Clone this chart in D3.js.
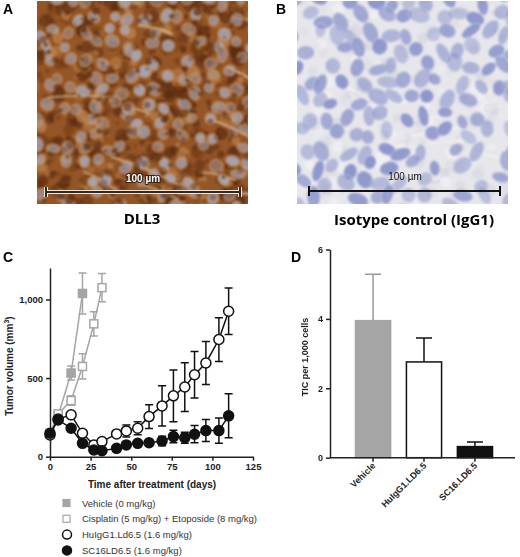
<!DOCTYPE html>
<html>
<head>
<meta charset="utf-8">
<script src="https://cdn.jsdelivr.net/npm/d3@7"></script>
<style>
  body { margin: 0; background: #fff; }
  svg { display: block; }
  text { font-family: Arial, "Liberation Sans", sans-serif; }
</style>
</head>
<body>
<div id="fig"></div>
<script>
// ---- panel C data: tumour volume (mm3) against days after treatment
const vehicleDays = [0, 5, 13, 20]
const vehicleVol = [150, 260, 532, 1038]
const vehicleErr = [20, 25, 45, 130]

const cisDays = [0, 5, 13, 20, 27, 32]
const cisVol = [145, 272, 357, 574, 845, 1075]
const cisErr = [20, 20, 30, 80, 77, 90]

const abDays = [0, 5, 13, 20, 27, 32, 41, 47, 54, 61, 69, 76, 83, 89, 96, 104, 110]
const huVol = [138, 239, 266, 149, 75, 96, 145, 164, 181, 255, 323, 387, 443, 521, 596, 745, 925]
const huErr = [15, 15, 20, 15, 12, 15, 15, 38, 42, 75, 128, 165, 155, 148, 137, 139, 148]
const scVol = [149, 234, 181, 85, 43, 38, 53, 75, 85, 89, 100, 128, 121, 143, 166, 166, 260]
const scErr = [15, 15, 20, 15, 10, 10, 10, 10, 12, 20, 30, 40, 35, 55, 70, 80, 140]

const volTicks = [0, 500, 1000]
const dayTicks = [0, 25, 50, 75, 100, 125]

const legendLabels = [
  'Vehicle (0 mg/kg)',
  'Cisplatin (5 mg/kg) + Etoposide (8 mg/kg)',
  'HuIgG1.Ld6.5 (1.6 mg/kg)',
  'SC16LD6.5 (1.6 mg/kg)'
]

// ---- panel D data: TIC per 1,000 cells
const ticGroups = ['Vehicle', 'HuIgG1.LD6.5', 'SC16.LD6.5']
const ticMean = [3.95, 2.76, 0.32]
const ticErr = [1.34, 0.69, 0.13]
const ticTicks = [0, 2, 4, 6]

const gray = '#a5a5a5'

const svg = d3.select('#fig').append('svg')
    .attr('width', 520)
    .attr('height', 557)

const defs = svg.append('defs')
defs.append('filter').attr('id', 'soft')
    .append('feGaussianBlur').attr('stdDeviation', 0.8)

// ---------- micrographs (A, B), drawn as a texture
function rnd(i) {
    const s = Math.sin(i * 12.9898 + 78.233) * 43758.5453
    return s - Math.floor(s)
}

function micro(x0, y0, w, h, st, seed) {
    const id = 'clip' + seed
    defs.append('clipPath').attr('id', id)
      .append('rect').attr('x', x0).attr('y', y0).attr('width', w).attr('height', h)
    const outer = svg.append('g').attr('clip-path', `url(#${id})`)
    outer.append('rect').attr('x', x0).attr('y', y0).attr('width', w).attr('height', h).attr('fill', st.bg)
    const m = outer.append('g').attr('filter', 'url(#soft)')
    let k = seed * 5000
    for (let i = 0; i < st.blots; i++) {
        m.append('circle')
          .attr('cx', x0 + rnd(k++) * w)
          .attr('cy', y0 + rnd(k++) * h)
          .attr('r', 1.5 + rnd(k++) * 6)
          .attr('fill', rnd(k++) < st.mix ? st.blot : st.blot2)
          .attr('opacity', 0.25 + rnd(k++) * 0.45)
    }
    for (let i = 0; i < st.fibers; i++) {
        const sx = x0 + rnd(k++) * w, sy = y0 + rnd(k++) * h
        const a = -0.2 + rnd(k++) * 0.9
        const len = 25 + rnd(k++) * 55
        const ex = sx + Math.cos(a) * len, ey = sy + Math.sin(a) * len
        m.append('path')
          .attr('d', `M${sx},${sy} Q${(sx + ex) / 2 + 3},${(sy + ey) / 2 - 3} ${ex},${ey}`)
          .attr('fill', 'none')
          .attr('stroke', st.fiber)
          .attr('stroke-width', 0.8 + rnd(k++) * 1.6)
          .attr('opacity', 0.7)
    }
    const step = st.step
    for (let r = 0; r * step * 0.87 < h + step; r++) {
        for (let c = 0; c * step < w + step; c++) {
            if (rnd(k++) < st.skip) continue
            const cx = x0 + c * step + (r % 2 ? step / 2 : 0) + (rnd(k++) - 0.5) * step * 0.6
            const cy = y0 + r * step * 0.87 + (rnd(k++) - 0.5) * step * 0.6
            m.append('ellipse')
              .attr('cx', cx).attr('cy', cy)
              .attr('rx', st.rx * (0.75 + 0.5 * rnd(k++)))
              .attr('ry', st.ry * (0.75 + 0.45 * rnd(k++)))
              .attr('transform', `rotate(${rnd(k++) * 180},${cx},${cy})`)
              .attr('fill', st.nuc)
              .attr('fill-opacity', st.op0 + rnd(k++) * (st.op1 - st.op0))
              .attr('stroke', st.nucStroke)
              .attr('stroke-opacity', 0.6)
              .attr('stroke-width', st.sw)
        }
    }
    // a second pass of dark stain over part of the field
    for (let i = 0; i < st.late; i++) {
        m.append('circle')
          .attr('cx', x0 + rnd(k++) * w)
          .attr('cy', y0 + rnd(k++) * h)
          .attr('r', 1 + rnd(k++) * 3.5)
          .attr('fill', st.blot)
          .attr('opacity', 0.3 + rnd(k++) * 0.4)
    }
}

micro(37, 1, 211, 203, {
    bg: '#955627', blot: '#5c2c0f', blot2: '#c08650', mix: 0.72, blots: 520, fiber: '#e4c9a0', fibers: 12,
    nuc: '#a8adc2', nucStroke: '#c38f5c', sw: 2, step: 17, rx: 6, ry: 5.4, skip: 0.22,
    op0: 0.35, op1: 0.9, late: 260
}, 1)

micro(297, 1, 211, 203, {
    bg: '#e7e7eb', blot: '#d4d4de', blot2: '#f4f4f6', mix: 0.6, blots: 200, fiber: '#f8f8f8', fibers: 10,
    nuc: '#8c95cb', nucStroke: '#c3c7e3', sw: 1.2, step: 19, rx: 8.8, ry: 6.4, skip: 0.16,
    op0: 0.45, op1: 1, late: 0
}, 2)

function scaleBar(x1, x2, y, color, halo, labelX, labelY) {
    const g = svg.append('g')
    const d = `M${x1},${y}H${x2}M${x1},${y - 5}V${y + 5}M${x2},${y - 5}V${y + 5}`
    if (halo) {
        g.append('path').attr('d', d).attr('stroke', halo).attr('stroke-width', 4).attr('fill', 'none')
    }
    g.append('path').attr('d', d).attr('stroke', color).attr('stroke-width', 2).attr('fill', 'none')
    const t = g.append('text').attr('x', labelX).attr('y', labelY)
      .attr('text-anchor', 'middle').attr('font-size', 10).text('100 µm')
    if (halo) {
        t.attr('fill', '#fff').attr('stroke', '#3a2412').attr('stroke-width', 2)
          .attr('paint-order', 'stroke').attr('font-weight', 'bold')
    } else {
        t.attr('fill', '#111')
    }
}
scaleBar(46, 240, 192, '#2a2a2a', '#f2e6d6', 143, 182)
scaleBar(309, 500, 191, '#111', null, 405, 180)

svg.append('text').attr('x', 142).attr('y', 224).attr('text-anchor', 'middle')
    .style('font-family', '"Open Sans", sans-serif').attr('font-weight', 'bold').attr('font-size', 15)
    .text('DLL3')
svg.append('text').attr('x', 414).attr('y', 225).attr('text-anchor', 'middle')
    .style('font-family', '"Open Sans", sans-serif').attr('font-weight', 'bold').attr('font-size', 15)
    .text('Isotype control (IgG1)')

const panelLabels = [['A', 3, 14], ['B', 276, 14], ['C', 3, 262], ['D', 291, 262]]
svg.selectAll('.plabel').data(panelLabels).join('text')
    .attr('class', 'plabel')
    .attr('x', d => d[1]).attr('y', d => d[2])
    .attr('font-weight', 'bold').attr('font-size', 14)
    .text(d => d[0])

// ---------- panel C
const xC = d3.scaleLinear().domain([0, 125]).range([50, 253])
const yC = d3.scaleLinear().domain([0, 1200]).range([456.7, 268])

const cAxisX = svg.append('g').attr('transform', `translate(0,${yC(0)})`)
    .call(d3.axisBottom(xC).tickValues(dayTicks).tickSize(4).tickSizeOuter(0).tickPadding(3))
const cAxisY = svg.append('g').attr('transform', `translate(${xC(0)},0)`)
    .call(d3.axisLeft(yC).tickValues(volTicks).tickFormat(d3.format(',')).tickSize(4).tickSizeOuter(0).tickPadding(3))

;[cAxisX, cAxisY].forEach(a => {
    a.select('.domain').attr('stroke', '#222').attr('stroke-width', 1.5)
    a.selectAll('.tick line').attr('stroke', '#222').attr('stroke-width', 1.5)
    a.selectAll('.tick text').attr('font-size', 9.5).attr('font-weight', 'bold').attr('fill', '#222')
        .style('font-family', 'Arial, "Liberation Sans", sans-serif')
})

svg.append('text').attr('x', 152).attr('y', 488).attr('text-anchor', 'middle')
    .attr('font-size', 10).attr('font-weight', 'bold').attr('fill', '#222')
    .text('Time after treatment (days)')

const yTitle = svg.append('text')
    .attr('transform', 'translate(13,366) rotate(-90)')
    .attr('text-anchor', 'middle')
    .attr('font-size', 10).attr('font-weight', 'bold').attr('fill', '#222')
yTitle.append('tspan').text('Tumor volume (mm')
yTitle.append('tspan').attr('font-size', 7).attr('dy', -4).text('3')
yTitle.append('tspan').attr('dy', 4).text(')')

const series = [
    { days: vehicleDays, vol: vehicleVol, err: vehicleErr, color: gray, shape: 'square', fill: gray },
    { days: cisDays, vol: cisVol, err: cisErr, color: gray, shape: 'square', fill: '#fff' },
    { days: abDays, vol: huVol, err: huErr, color: '#111', shape: 'circle', fill: '#fff' },
    { days: abDays, vol: scVol, err: scErr, color: '#111', shape: 'circle', fill: '#111' }
]

const lineGen = d3.line().x(d => xC(d[0])).y(d => yC(d[1]))

series.forEach(s => {
    const pts = s.days.map((d, i) => [d, s.vol[i], s.err[i]])
    const g = svg.append('g')
    g.append('path').attr('d', lineGen(pts))
      .attr('fill', 'none').attr('stroke', s.color).attr('stroke-width', 1.5)
    g.selectAll('.err').data(pts).join('path')
      .attr('class', 'err')
      .attr('d', d => {
          const x = xC(d[0]), y1 = yC(d[1] - d[2]), y2 = yC(d[1] + d[2])
          return `M${x},${y1}V${y2}M${x - 4},${y2}H${x + 4}M${x - 4},${y1}H${x + 4}`
      })
      .attr('fill', 'none').attr('stroke', s.color).attr('stroke-width', 1.5)
    if (s.shape === 'square') {
        g.selectAll('.mk').data(pts).join('rect')
          .attr('class', 'mk')
          .attr('x', d => xC(d[0]) - 4).attr('y', d => yC(d[1]) - 4)
          .attr('width', 8).attr('height', 8)
          .attr('fill', s.fill).attr('stroke', s.color).attr('stroke-width', 1.5)
    } else {
        g.selectAll('.mk').data(pts).join('circle')
          .attr('class', 'mk')
          .attr('cx', d => xC(d[0])).attr('cy', d => yC(d[1])).attr('r', 5)
          .attr('fill', s.fill).attr('stroke', s.color).attr('stroke-width', 1.5)
    }
})

// legend
const legend = svg.append('g')
legendLabels.forEach((lab, i) => {
    const s = series[i]
    const y = 503 + i * 15.8
    if (s.shape === 'square') {
        legend.append('rect').attr('x', 63).attr('y', y - 3.5).attr('width', 7).attr('height', 7)
          .attr('fill', s.fill).attr('stroke', s.color).attr('stroke-width', 1.2)
    } else {
        legend.append('circle').attr('cx', 67).attr('cy', y).attr('r', 4.5)
          .attr('fill', s.fill).attr('stroke', s.color).attr('stroke-width', 1.5)
    }
    legend.append('text').attr('x', 82).attr('y', y + 3.5)
      .attr('font-size', 9.5).attr('fill', '#333').text(lab)
})

// ---------- panel D
const xD = d3.scaleBand().domain(ticGroups).range([330, 518]).paddingInner(0.31).paddingOuter(0.5)
const yD = d3.scaleLinear().domain([0, 6]).range([457.7, 249.5])
const barFill = [gray, '#fff', '#111']
const barStroke = [gray, '#111', '#111']

const bars = svg.append('g')
ticGroups.forEach((g, i) => {
    const cx = xD(g) + xD.bandwidth() / 2
    const top = yD(ticMean[i] + ticErr[i])
    bars.append('path')
      .attr('d', `M${cx},${yD(ticMean[i])}V${top}M${cx - 8},${top}H${cx + 8}`)
      .attr('stroke', i === 0 ? '#999' : '#111').attr('stroke-width', 1.5).attr('fill', 'none')
})
bars.selectAll('rect').data(ticGroups).join('rect')
    .attr('x', d => xD(d)).attr('width', xD.bandwidth())
    .attr('y', (d, i) => yD(ticMean[i])).attr('height', (d, i) => yD(0) - yD(ticMean[i]))
    .attr('fill', (d, i) => barFill[i]).attr('stroke', (d, i) => barStroke[i]).attr('stroke-width', 1.5)

const dAxisX = svg.append('g').attr('transform', `translate(0,${yD(0)})`)
    .call(d3.axisBottom(xD).tickSize(4).tickSizeOuter(0))
dAxisX.select('.domain').attr('d', `M330,0H515`)
dAxisX.selectAll('.tick text')
    .attr('text-anchor', 'end')
    .attr('transform', 'rotate(-45)')
    .attr('x', -4).attr('y', 5).attr('dy', '0.35em')

const dAxisY = svg.append('g').attr('transform', 'translate(330,0)')
    .call(d3.axisLeft(yD).tickValues(ticTicks).tickFormat(d3.format('d')).tickSize(4).tickSizeOuter(0).tickPadding(3))

;[dAxisX, dAxisY].forEach(a => {
    a.select('.domain').attr('stroke', '#222').attr('stroke-width', 1.5)
    a.selectAll('.tick line').attr('stroke', '#222').attr('stroke-width', 1.5)
    a.selectAll('.tick text').attr('font-size', 9).attr('font-weight', 'bold').attr('fill', '#222')
        .style('font-family', 'Arial, "Liberation Sans", sans-serif')
})

svg.append('text')
    .attr('transform', 'translate(308,357) rotate(-90)')
    .attr('text-anchor', 'middle')
    .attr('font-size', 9).attr('font-weight', 'bold').attr('fill', '#222')
    .text('TIC per 1,000 cells')
</script>
</body>
</html>
